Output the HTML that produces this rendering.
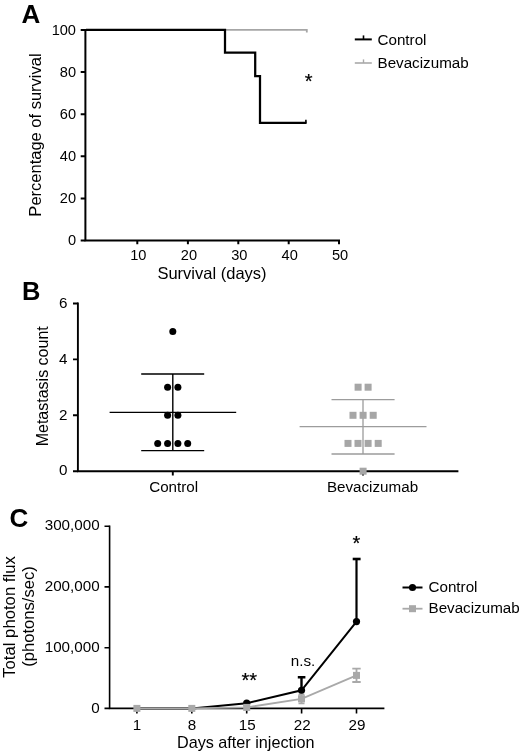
<!DOCTYPE html>
<html>
<head>
<meta charset="utf-8">
<title>Figure</title>
<style>
html,body{margin:0;padding:0;background:#fff;}
body{width:520px;height:754px;overflow:hidden;}
svg{display:block;}
text{font-family:"Liberation Sans",Arial,sans-serif;fill:#000;}
.t{font-size:15.2px;}
.ta{font-size:14.6px;}
.ax{font-size:16.5px;}
.pl{font-size:26px;font-weight:bold;}
.st{font-size:20px;stroke:#000;stroke-width:0.22px;}
</style>
</head>
<body>
<svg width="520" height="754" viewBox="0 0 520 754">
<rect width="520" height="754" fill="#fff"/>

<!-- ================= Panel A ================= -->
<g id="panelA">
<text class="pl" x="21.6" y="23.3">A</text>
<!-- axes -->
<g stroke="#000" stroke-width="2" fill="none">
<path d="M85.4 29 V240.5 H340"/>
<path d="M80.7 30H85.4 M80.7 72.1H85.4 M80.7 114.2H85.4 M80.7 156.3H85.4 M80.7 198.4H85.4 M80.7 240.5H85.4"/>
<path d="M137.3 240.5V244.3 M187.9 240.5V244.3 M238.3 240.5V244.3 M288.7 240.5V244.3 M339 240.5V244.3"/>
</g>
<g class="ta" text-anchor="end">
<text x="76" y="35.1">100</text>
<text x="76" y="77.1">80</text>
<text x="76" y="119.1">60</text>
<text x="76" y="161.1">40</text>
<text x="76" y="203.1">20</text>
<text x="76" y="245.1">0</text>
</g>
<g class="ta" text-anchor="middle">
<text x="138.3" y="259.6">10</text>
<text x="188.9" y="259.6">20</text>
<text x="239.3" y="259.6">30</text>
<text x="289.7" y="259.6">40</text>
<text x="340" y="259.6">50</text>
</g>
<text class="ax" text-anchor="middle" x="212" y="279.3">Survival (days)</text>
<text class="ax" text-anchor="middle" transform="translate(41.4 135) rotate(-90)">Percentage of survival</text>
<!-- curves -->
<path d="M225 29.8H306.8V32.5" stroke="#a6a6a6" stroke-width="1.8" fill="none"/>
<path d="M86 29.8H225V52.7H255.2V76.2H260V122.8H306.6" stroke="#000" stroke-width="2.25" fill="none"/>
<path d="M305.9 122.8V119.8" stroke="#000" stroke-width="1.6" fill="none"/>
<text class="st" text-anchor="middle" x="308.6" y="88.2">*</text>
<!-- legend -->
<path d="M354.8 39.4H371.8" stroke="#000" stroke-width="2"/>
<path d="M363.5 39.4V35.4" stroke="#000" stroke-width="1.6"/>
<text class="t" x="377.5" y="44.8">Control</text>
<path d="M354.8 63H371.8" stroke="#a9a9a9" stroke-width="1.6"/>
<path d="M363.5 63V59.4" stroke="#a9a9a9" stroke-width="1.4"/>
<text class="t" x="377.5" y="67.8">Bevacizumab</text>
</g>

<!-- ================= Panel B ================= -->
<g id="panelB">
<text class="pl" x="22" y="299.5" style="font-size:25.5px">B</text>
<g stroke="#000" stroke-width="1.9" fill="none">
<path d="M77.9 302.6V471.2H458.4"/>
<path d="M73 303.5H77.9 M73 359.4H77.9 M73 415.3H77.9 M73 471.2H77.9"/>
<path d="M172.8 471.2V475.6 M363 471.2V475.6"/>
</g>
<g class="t" text-anchor="end">
<text x="67.5" y="307.7">6</text>
<text x="67.5" y="363.6">4</text>
<text x="67.5" y="419.5">2</text>
<text x="67.5" y="475.4">0</text>
</g>
<text class="ax" style="font-size:16px" text-anchor="middle" transform="translate(48 386.3) rotate(-90)">Metastasis count</text>
<text class="t" text-anchor="middle" x="173.7" y="492.3">Control</text>
<text class="t" text-anchor="middle" x="372.5" y="492.3">Bevacizumab</text>
<!-- control -->
<g stroke="#000" stroke-width="1.4" fill="none">
<path d="M141.2 374H204.2 M109.6 412.4H236.2 M141.2 450.6H204.2 M172.8 374V450.6"/>
</g>
<g fill="#000">
<circle cx="172.8" cy="331.5" r="3.5"/>
<circle cx="167.6" cy="387.3" r="3.5"/><circle cx="177.9" cy="387.3" r="3.5"/>
<circle cx="167.6" cy="415.3" r="3.5"/><circle cx="177.9" cy="415.3" r="3.5"/>
<circle cx="157.7" cy="443.4" r="3.5"/><circle cx="167.6" cy="443.4" r="3.5"/><circle cx="177.9" cy="443.4" r="3.5"/><circle cx="187.7" cy="443.4" r="3.5"/>
</g>
<!-- bev -->
<g stroke="#9c9c9c" stroke-width="1.3" fill="none">
<path d="M331.5 399.6H394.6 M299.6 426.7H426.5 M331.5 454H394.6 M363 399.6V454"/>
</g>
<g fill="#a6a6a6">
<rect x="354.6" y="383.7" width="7" height="7"/><rect x="364.6" y="383.7" width="7" height="7"/>
<rect x="349.5" y="411.8" width="7" height="7"/><rect x="359.6" y="411.8" width="7" height="7"/><rect x="369.7" y="411.8" width="7" height="7"/>
<rect x="344.5" y="439.9" width="7" height="7"/><rect x="354.5" y="439.9" width="7" height="7"/><rect x="364.6" y="439.9" width="7" height="7"/><rect x="374.7" y="439.9" width="7" height="7"/>
<rect x="359.6" y="467.7" width="7" height="7"/>
</g>
</g>

<!-- ================= Panel C ================= -->
<g id="panelC">
<text class="pl" x="9.5" y="526.5">C</text>
<g stroke="#000" stroke-width="1.6" fill="none">
<path d="M109.6 525.4V708.4H384.4"/>
<path d="M104.5 526.2H109.6 M104.5 586.9H109.6 M104.5 647.7H109.6 M104.5 708.4H109.6"/>
<path d="M136.9 708.4V713.6 M191.8 708.4V713.6 M246.7 708.4V713.6 M301.6 708.4V713.6 M356.5 708.4V713.6"/>
</g>
<g class="t" text-anchor="end">
<text x="99.6" y="530.3">300,000</text>
<text x="99.6" y="591">200,000</text>
<text x="99.6" y="651.8">100,000</text>
<text x="99.6" y="712.5">0</text>
</g>
<g class="t" text-anchor="middle">
<text x="136.9" y="729.8">1</text>
<text x="192.1" y="729.8">8</text>
<text x="247.3" y="729.8">15</text>
<text x="302.3" y="729.8">22</text>
<text x="357" y="729.8">29</text>
</g>
<text class="ax" style="font-size:16.2px" text-anchor="middle" x="245.8" y="748.2">Days after injection</text>
<text class="ax" style="font-size:16.7px" text-anchor="middle" transform="translate(14.6 617) rotate(-90)">Total photon flux</text>
<text class="ax" style="font-size:16.6px" text-anchor="middle" transform="translate(33.9 616.5) rotate(-90)">(photons/sec)</text>
<!-- control line -->
<g stroke="#000" fill="none">
<path d="M136.9 708.4L191.8 708.4L246.7 703.2L301.5 690.3L356.5 621.6" stroke-width="2"/>
<path d="M301.5 690.3V677.3 M297.8 677.3H305.4" stroke-width="2.4"/>
<path d="M356.5 621.6V559" stroke-width="2.2"/><path d="M352.7 559H360.6" stroke-width="2.6"/>
</g>
<g fill="#000">
<circle cx="246.7" cy="703.2" r="3.6"/><circle cx="301.5" cy="690.3" r="3.6"/><circle cx="356.5" cy="621.6" r="3.6"/>
</g>
<!-- bev line -->
<g stroke="#a9a9a9" fill="none">
<path d="M136.9 708.4L191.8 708.4L246.7 707.4L301.5 698.8L356.5 675.4" stroke-width="1.8"/>
<path d="M301.5 694.6V703.3 M298.5 694.6H304.5 M298.5 703.3H304.5" stroke-width="1.8"/>
<path d="M356.5 668.6V682 M352.3 668.6H360.7 M352.3 682H360.7" stroke-width="1.8"/>
</g>
<g fill="#a9a9a9">
<rect x="133.4" y="704.9" width="7" height="7"/><rect x="188.3" y="704.9" width="7" height="7"/><rect x="243.2" y="703.9" width="7" height="7"/><rect x="298" y="695.3" width="7" height="7"/><rect x="353" y="671.9" width="7" height="7"/>
</g>
<text class="st" text-anchor="middle" x="249.3" y="687.2">**</text>
<text class="t" text-anchor="middle" x="303" y="666">n.s.</text>
<text class="st" text-anchor="middle" x="356.5" y="549.5">*</text>
<!-- legend -->
<path d="M402.5 587.5H422.5" stroke="#000" stroke-width="2"/>
<circle cx="412.5" cy="587.5" r="3.6" fill="#000"/>
<text class="t" x="428.5" y="592.2">Control</text>
<path d="M402.5 608.7H422.5" stroke="#a9a9a9" stroke-width="1.8"/>
<rect x="409" y="605.2" width="7" height="7" fill="#a9a9a9"/>
<text class="t" x="428.5" y="613.4">Bevacizumab</text>
</g>
</svg>
</body>
</html>
